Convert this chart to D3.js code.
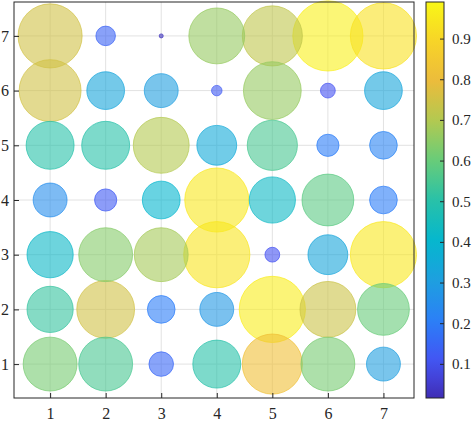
<!DOCTYPE html>
<html><head><meta charset="utf-8">
<script src="https://cdn.jsdelivr.net/npm/d3@7"></script>
<style>body{margin:0;background:#fff}</style>
</head><body><div id="chart"></div>
<script>
const xs = [1, 2, 3, 4, 5, 6, 7];
const ys = [1, 2, 3, 4, 5, 6, 7];
const cbTicks = [0.1, 0.2, 0.3, 0.4, 0.5, 0.6, 0.7, 0.8, 0.9];
// colour values, rows from y=1 (bottom) to y=7 (top)
const colorVals = [
  [0.62, 0.55, 0.15, 0.50, 0.82, 0.62, 0.30],
  [0.52, 0.75, 0.20, 0.28, 0.96, 0.74, 0.60],
  [0.42, 0.64, 0.68, 0.94, 0.10, 0.33, 0.95],
  [0.25, 0.12, 0.40, 0.95, 0.43, 0.58, 0.20],
  [0.50, 0.50, 0.70, 0.35, 0.55, 0.20, 0.22],
  [0.75, 0.33, 0.30, 0.12, 0.66, 0.10, 0.33],
  [0.75, 0.14, 0.03, 0.66, 0.72, 0.97, 0.93]
];
// bubble sizes, same layout
const sizeVals = [
  [0.53, 0.53, 0.11, 0.42, 0.66, 0.53, 0.21],
  [0.39, 0.61, 0.14, 0.21, 0.80, 0.57, 0.49],
  [0.39, 0.53, 0.53, 0.80, 0.04, 0.29, 0.80],
  [0.21, 0.09, 0.26, 0.75, 0.39, 0.49, 0.14],
  [0.42, 0.42, 0.57, 0.29, 0.46, 0.09, 0.14],
  [0.70, 0.26, 0.21, 0.02, 0.61, 0.04, 0.26],
  [0.75, 0.07, 0.003, 0.57, 0.66, 0.90, 0.80]
];

const parula = [
  [0.2422,0.1504,0.6603],[0.2691,0.3162,0.9473],[0.1707,0.4893,0.9783],
  [0.1197,0.6187,0.8795],[0.0165,0.7127,0.8110],[0.1540,0.7563,0.6627],
  [0.4071,0.8004,0.4733],[0.7046,0.7879,0.3156],[0.9329,0.7322,0.2316],
  [0.9741,0.8399,0.1505],[0.9769,0.9839,0.0805]
].map(c => d3.rgb(c[0]*255, c[1]*255, c[2]*255).formatHex());
const cmap = d3.scaleLinear().domain(d3.range(11).map(i => i / 10)).range(parula).clamp(true);

const W = 474, H = 424;
const plot = { left: 14, right: 414, top: 2, bottom: 398 };
const x = d3.scaleLinear().domain([0.35, 7.55]).range([plot.left, plot.right]);
const y = d3.scaleLinear().domain([0.38, 7.62]).range([plot.bottom, plot.top]);
const c = d3.scaleLinear().domain([0.016, 0.99]).range([plot.bottom, plot.top]);
const r = d3.scaleSqrt().domain([0, 1]).range([0, 37]);

const svg = d3.select("#chart").append("svg").attr("width", W).attr("height", H)
  .style("font-family", "Liberation Serif, DejaVu Serif, serif");

// grid
svg.append("g").selectAll("line").data(xs).join("line")
  .attr("x1", d => x(d)).attr("x2", d => x(d)).attr("y1", plot.top).attr("y2", plot.bottom)
  .attr("stroke", "#e2e2e2");
svg.append("g").selectAll("line").data(ys).join("line")
  .attr("y1", d => y(d)).attr("y2", d => y(d)).attr("x1", plot.left).attr("x2", plot.right)
  .attr("stroke", "#e2e2e2");

const pts = [];
colorVals.forEach((row, j) => row.forEach((v, i) => pts.push({ x: xs[i], y: ys[j], v, s: sizeVals[j][i] })));
pts.sort((a, b) => b.s - a.s);
svg.append("g").selectAll("circle").data(pts).join("circle")
  .attr("cx", d => x(d.x)).attr("cy", d => y(d.y)).attr("r", d => r(d.s))
  .attr("fill", d => cmap(d.v)).attr("fill-opacity", 0.6)
  .attr("stroke", d => cmap(d.v)).attr("stroke-opacity", 0.7);

// axes
svg.append("g").attr("transform", `translate(0,${plot.bottom})`)
  .call(d3.axisBottom(x).tickValues(xs).tickSize(-5).tickPadding(10).tickFormat(d3.format("d")))
  .call(g => g.select(".domain").remove());
svg.append("g").attr("transform", `translate(${plot.left},0)`)
  .call(d3.axisLeft(y).tickValues(ys).tickSize(-5).tickPadding(5).tickFormat(d3.format("d")))
  .call(g => g.select(".domain").remove());
svg.selectAll(".tick text").attr("font-size", 16).attr("fill", "#262626").style("font-family", "Liberation Serif, serif");
svg.selectAll(".tick line").attr("stroke", "#262626");
svg.append("rect").attr("x", plot.left).attr("y", plot.top)
  .attr("width", plot.right - plot.left).attr("height", plot.bottom - plot.top)
  .attr("fill", "none").attr("stroke", "#262626");

// colorbar
const cb = { x: 426, w: 18 };
const grad = svg.append("defs").append("linearGradient").attr("id", "cb")
  .attr("x1", 0).attr("x2", 0).attr("y1", 1).attr("y2", 0);
d3.range(0, 1.001, 0.05).forEach(t => {
  const v = 0.016 + t * (0.99 - 0.016);
  grad.append("stop").attr("offset", t).attr("stop-color", cmap(v));
});
svg.append("rect").attr("x", cb.x).attr("y", plot.top).attr("width", cb.w)
  .attr("height", plot.bottom - plot.top).attr("fill", "url(#cb)").attr("stroke", "#262626");
const cbAxis = svg.append("g").attr("transform", `translate(${cb.x + cb.w},0)`)
  .call(d3.axisRight(c).tickValues(cbTicks).tickSize(-4).tickPadding(8).tickFormat(d3.format(".1f")))
  .call(g => g.select(".domain").remove());
cbAxis.selectAll("text").attr("font-size", 15).attr("fill", "#262626").style("font-family", "Liberation Serif, serif");
cbAxis.selectAll("line").attr("stroke", "#262626");
</script></body></html>
